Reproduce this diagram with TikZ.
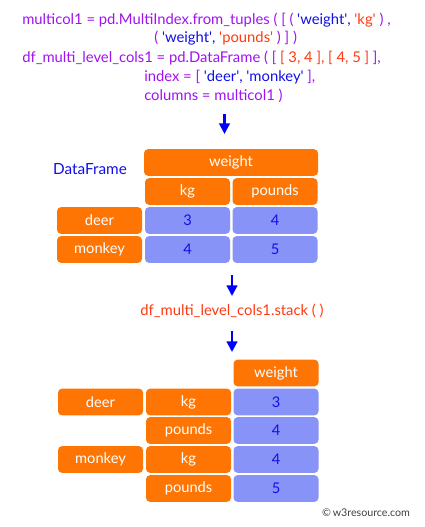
\documentclass[tikz,border=0pt]{standalone}
\usepackage{fontspec}
\setmainfont{Lato}
\usetikzlibrary{arrows.meta}

\definecolor{codepurple}{HTML}{A112F0}
\definecolor{codeblue}{HTML}{1010E8}
\definecolor{codered}{HTML}{FF3A10}
\definecolor{boxorange}{HTML}{FF7503}
\definecolor{celllav}{HTML}{8893F8}
\newcommand{\sq}{\textquotesingle}

\tikzset{
  hdr/.style={fill=boxorange, rounded corners=3pt, text=white, minimum width=63.75pt, minimum height=20pt, inner sep=0pt, font=\fontsize{11}{13}\selectfont},
  val/.style={fill=celllav, rounded corners=3pt, text=codeblue, minimum width=63.75pt, minimum height=20pt, inner sep=0pt, font=\fontsize{11}{13}\selectfont},
  code/.style={anchor=base west, inner sep=0pt, text=codepurple, font=\fontsize{11.1}{13}\selectfont},
  down/.style={draw=blue, line width=1.6pt, -{Triangle[length=8pt,width=8pt]}}
}

\begin{document}
\begin{tikzpicture}[x=0.75pt, y=-0.75pt]
  \useasboundingbox (0,0) rectangle (424,527);

  % code
  \node[code] (l1) at (22,25) {multicol1 = pd.MultiIndex.from\_tuples ( [ ( \textcolor{codeblue}{\sq weight\sq,} \textcolor{codered}{\sq kg\sq} ) ,};
  \node[code] (l2) at (154,43) {( \textcolor{codeblue}{\sq weight\sq,} \textcolor{codered}{\sq pounds\sq} ) ] )};
  \node[code] (l3) at (22,63) {df\_multi\_level\_cols1 = pd.DataFrame ( [ \textcolor{codered}{[ 3, 4 ], [ 4, 5 ]} ],};
  \node[code] (l4) at (144,82) {index = [ \textcolor{codeblue}{\sq deer\sq, \sq monkey\sq} ],};
  \node[code] (l5) at (144,101) {columns = multicol1 )};

  \coordinate (a1s) at (224.5,114);
  \coordinate (a1e) at (224.5,134);
  \draw[down] (a1s) -- (a1e);

  % first frame
  \node[text=codeblue, font=\fontsize{11.5}{13}\selectfont] (df) at (90,169) {DataFrame};
  \node[hdr, minimum width=130.5pt] (w1) at (231,162.5) {weight};
  \node[hdr] (kg1) at (187.5,191.5) {kg};
  \node[hdr] (lb1) at (275,191.5) {pounds};
  \node[hdr] (deer1) at (99.5,220.5) {deer};
  \node[val] (v11) at (187.5,220.5) {3};
  \node[val] (v12) at (275,220.5) {4};
  \node[hdr] (mk1) at (99.5,249.5) {monkey};
  \node[val] (v21) at (187.5,249.5) {4};
  \node[val] (v22) at (275,249.5) {5};

  \coordinate (a2s) at (232,275);
  \coordinate (a2e) at (232,296);
  \draw[down] (a2s) -- (a2e);

  \node[text=codered, font=\fontsize{11.1}{13}\selectfont] (st) at (232,311) {df\_multi\_level\_cols1.stack ( )};

  \coordinate (a3s) at (232,331);
  \coordinate (a3e) at (232,352);
  \draw[down] (a3s) -- (a3e);

  % stacked
  \node[hdr] (w2) at (276,373) {weight};
  \node[hdr] (deer2) at (100.5,402) {deer};
  \node[hdr] (kg2) at (188.5,402) {kg};
  \node[val] (s1) at (276,402) {3};
  \node[hdr] (lb2) at (188.5,430.5) {pounds};
  \node[val] (s2) at (276,430.5) {4};
  \node[hdr] (mk2) at (100.5,459.5) {monkey};
  \node[hdr] (kg3) at (188.5,459.5) {kg};
  \node[val] (s3) at (276,459.5) {4};
  \node[hdr] (lb3) at (188.5,488.5) {pounds};
  \node[val] (s4) at (276,488.5) {5};

  \node[text=black!75, font=\fontsize{8}{9}\selectfont] (cr) at (366,513) {\textcopyright\,w3resource.com};
\end{tikzpicture}
\end{document}
